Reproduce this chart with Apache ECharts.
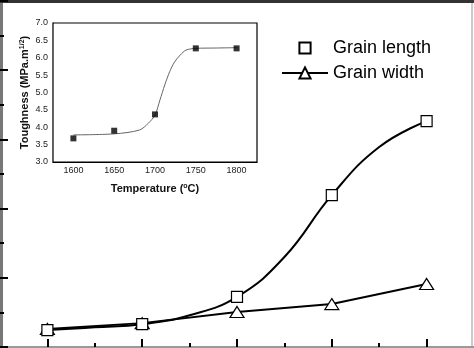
<!DOCTYPE html>
<html>
<head>
<meta charset="utf-8">
<script src="https://cdn.jsdelivr.net/npm/echarts@6/dist/echarts.min.js"></script>
<style>
html,body{margin:0;padding:0;background:#fff;}
#c{width:474px;height:348px;}
</style>
</head>
<body>
<div id="c"></div>
<script>
// ---- main chart data ----
const mainX = [1, 2, 3, 4, 5];
const grainLength = [0.49, 0.66, 1.45, 4.39, 6.53];
const grainWidth = [0.52, 0.69, 1.01, 1.24, 1.82];
// fitted curve through the grain length points
const lengthCurveX = [1, 1.5, 2, 2.5, 3, 3.5, 4, 4.5, 5];
const lengthCurveY = [0.49, 0.57, 0.66, 0.92, 1.45, 2.60, 4.39, 5.78, 6.53];
const mainMajorTicks = [1, 2, 3, 4, 5];
const mainMinorTicks = [1.5, 2.5, 3.5, 4.5];

// ---- inset data ----
const insetTemp = [1600, 1650, 1700, 1750, 1800];
const insetToughness = [3.68, 3.90, 4.37, 6.27, 6.27];
const fitTemp = [1600, 1650, 1681, 1692, 1700, 1706, 1712, 1718, 1724, 1731, 1738, 1750, 1775, 1800];
const fitToughness = [3.78, 3.81, 3.92, 4.12, 4.35, 4.78, 5.22, 5.60, 5.88, 6.08, 6.22, 6.27, 6.28, 6.29];
const insetXLabels = [1600, 1650, 1700, 1750, 1800];
const insetXMinor = [1625, 1675, 1725, 1775];

const FONT = 'Liberation Sans, Arial, sans-serif';
const pair = (xs, ys) => xs.map((x, i) => [x, ys[i]]);

const chart = echarts.init(document.getElementById('c'), null, {renderer: 'canvas'});
chart.setOption({
  animation: false,
  backgroundColor: '#fff',
  grid: [
    {left: 0, right: 0, top: 1, bottom: 1},
    {left: 53, top: 23, width: 204, height: 139, show: true, borderColor: '#000', borderWidth: 1.2, backgroundColor: '#fff', z: 5}
  ],
  legend: {
    orient: 'vertical', left: 281, top: 39, padding: 0, itemWidth: 46, itemHeight: 14, itemGap: 7,
    selectedMode: false,
    textStyle: {fontFamily: FONT, fontSize: 18, color: '#000'},
    data: ['Grain length', 'Grain width']
  },
  xAxis: [
    {gridIndex: 0, type: 'value', min: 0.5, max: 5.5, position: 'bottom',
     axisLine: {show: true, lineStyle: {color: '#999', width: 2}},
     axisTick: {show: true, inside: true, length: 8, customValues: mainMajorTicks, lineStyle: {color: '#000', width: 2}},
     axisLabel: {show: false}, splitLine: {show: false}},
    {gridIndex: 0, type: 'value', min: 0.5, max: 5.5, position: 'bottom',
     axisLine: {show: false},
     axisTick: {show: true, inside: true, length: 4, customValues: mainMinorTicks, lineStyle: {color: '#000', width: 2}},
     axisLabel: {show: false}, splitLine: {show: false}},
    {gridIndex: 0, type: 'value', min: 0.5, max: 5.5, position: 'top',
     axisLine: {show: true, lineStyle: {color: '#333', width: 4}},
     axisTick: {show: false}, axisLabel: {show: false}, splitLine: {show: false}},
    {gridIndex: 1, type: 'value', min: 1575, max: 1825, position: 'bottom',
     name: 'Temperature ({sup|o}C)', nameLocation: 'middle', nameGap: 21,
     nameTextStyle: {fontFamily: FONT, fontSize: 11, fontWeight: 'bold', color: '#111',
       rich: {sup: {fontFamily: FONT, fontSize: 7, fontWeight: 'bold', color: '#111', verticalAlign: 'top', padding: [0, 0, 5, 0]}}},
     axisLine: {show: true, lineStyle: {color: '#000', width: 1.2}},
     axisTick: {show: true, inside: true, length: 3, customValues: insetXLabels, lineStyle: {color: '#000'}},
     axisLabel: {show: true, customValues: insetXLabels, fontFamily: FONT, fontSize: 9, color: '#222', margin: 4,
       formatter: v => String(v)},
     splitLine: {show: false}},
    {gridIndex: 1, type: 'value', min: 1575, max: 1825, position: 'bottom',
     axisLine: {show: false},
     axisTick: {show: true, inside: true, length: 2, customValues: insetXMinor, lineStyle: {color: '#000'}},
     axisLabel: {show: false}, splitLine: {show: false}}
  ],
  yAxis: [
    {gridIndex: 0, type: 'value', min: 0, max: 10, interval: 2, position: 'left',
     axisLine: {show: true, lineStyle: {color: '#777', width: 6}},
     axisTick: {show: true, inside: true, length: 8, lineStyle: {color: '#000', width: 2}},
     minorTick: {show: true, splitNumber: 2, length: 4, lineStyle: {color: '#000', width: 2}},
     axisLabel: {show: false}, splitLine: {show: false}},
    {gridIndex: 0, type: 'value', min: 0, max: 10, position: 'right', offset: -2,
     axisLine: {show: true, lineStyle: {color: '#ccc', width: 2}},
     axisTick: {show: false}, axisLabel: {show: false}, splitLine: {show: false}},
    {gridIndex: 1, type: 'value', min: 3, max: 7, interval: 0.5, position: 'left',
     name: 'Toughness (MPa.m{sup|1/2})', nameLocation: 'middle', nameGap: 22,
     nameTextStyle: {fontFamily: FONT, fontSize: 11, fontWeight: 'bold', color: '#111',
       rich: {sup: {fontFamily: FONT, fontSize: 7, fontWeight: 'bold', color: '#111', verticalAlign: 'top', padding: [0, 0, 5, 0]}}},
     axisLine: {show: true, lineStyle: {color: '#000', width: 1.2}},
     axisTick: {show: true, inside: true, length: 3, lineStyle: {color: '#000'}},
     minorTick: {show: true, splitNumber: 2, length: 2, lineStyle: {color: '#000'}},
     axisLabel: {show: true, fontFamily: FONT, fontSize: 9, color: '#222', margin: 5,
       formatter: v => v.toFixed(1)},
     splitLine: {show: false}}
  ],
  series: [
    {name: 'Grain length curve', type: 'line', xAxisIndex: 0, yAxisIndex: 0,
     data: pair(lengthCurveX, lengthCurveY), smooth: 0.45, symbol: 'none',
     lineStyle: {color: '#000', width: 2}, z: 2},
    {name: 'Grain width', type: 'line', xAxisIndex: 0, yAxisIndex: 0,
     data: pair(mainX, grainWidth), symbol: 'triangle', symbolSize: [14, 11],
     lineStyle: {color: '#000', width: 2},
     itemStyle: {color: '#fff', borderColor: '#000', borderWidth: 1.2}, z: 3},
    {name: 'Grain length', type: 'line', xAxisIndex: 0, yAxisIndex: 0,
     data: pair(mainX, grainLength), symbol: 'rect', symbolSize: 11,
     lineStyle: {width: 0, color: '#000'},
     itemStyle: {color: '#fff', borderColor: '#000', borderWidth: 1.2}, z: 4},
    {name: 'Fit', type: 'line', xAxisIndex: 3, yAxisIndex: 2,
     data: pair(fitTemp, fitToughness), smooth: 0.3, symbol: 'none',
     lineStyle: {color: '#666', width: 1}, z: 6},
    {name: 'Toughness', type: 'scatter', xAxisIndex: 3, yAxisIndex: 2,
     data: pair(insetTemp, insetToughness), symbol: 'rect', symbolSize: 6,
     itemStyle: {color: '#000'}, z: 7}
  ]
});
</script>
</body>
</html>
